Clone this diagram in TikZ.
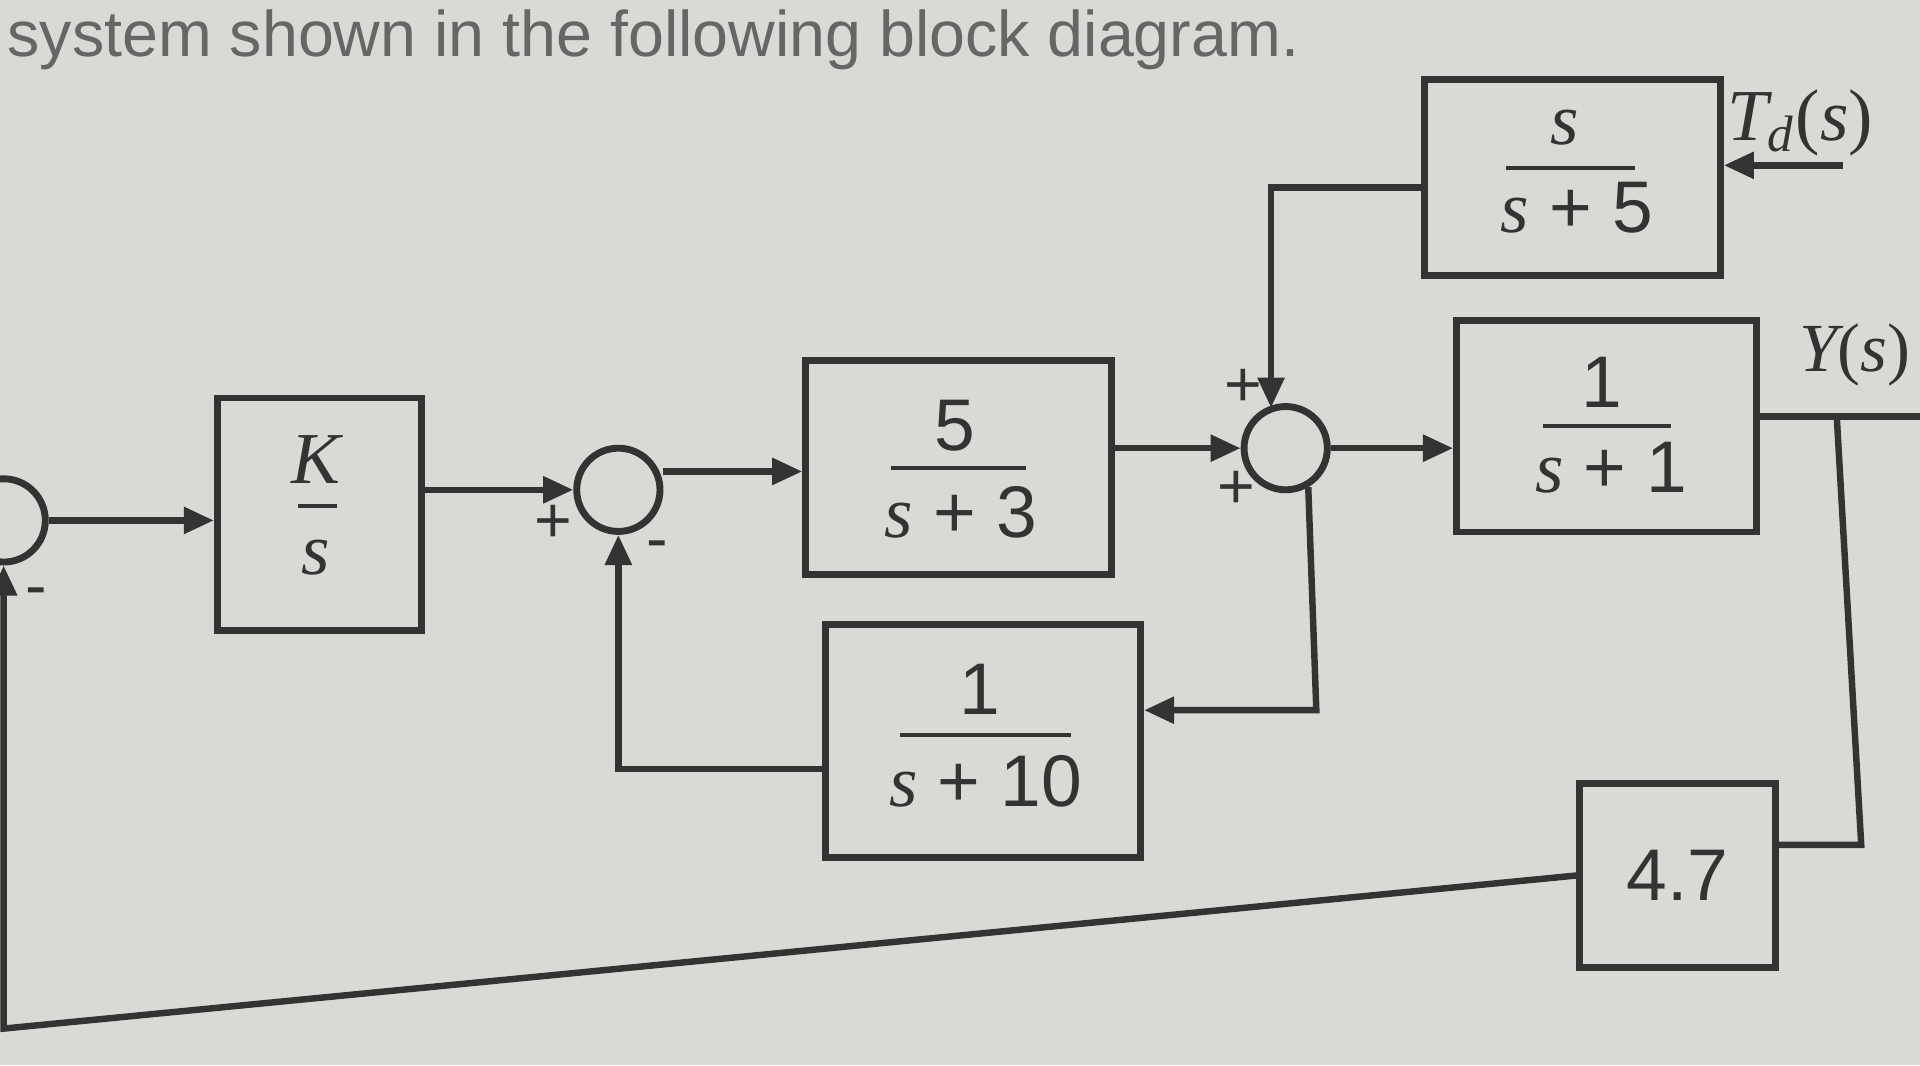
\documentclass[tikz,border=0pt]{standalone}
\usepackage{fontspec}
\setmainfont{Liberation Sans}
\newfontfamily\serifit{Liberation Serif}
\usetikzlibrary{arrows.meta}
\definecolor{bg}{HTML}{D9D9D6}
\definecolor{ink}{HTML}{333333}
\begin{document}
\begin{tikzpicture}[x=0.1mm,y=-0.1mm,
  ln/.style={ink,line width=1.5pt},
  ar/.style={ln,-{Triangle[length=7pt,width=6pt]}},
  blk/.style={draw=ink,line width=1.6pt,fill=bg,inner sep=0},
  sm/.style={draw=ink,line width=1.6pt,circle,minimum size=6.8mm,inner sep=0},
  tx/.style={font=\fontsize{17}{19}\selectfont,text=ink},
  sg/.style={font=\fontsize{15}{15}\selectfont,text=ink}]
\fill[bg] (0,0) rectangle (1568,870);
\useasboundingbox (0,0) rectangle (1568,870);
\node[anchor=north west,inner sep=1pt,text=gray!80!black,font=\fontsize{15}{17}\selectfont] (title) at (2,4) {system shown in the following block diagram.};
% blocks
\node[blk,minimum width=16.7mm,minimum height=19mm] (ks) at (261,420) {};
\node[tx] (ksn) at (258,375) {\serifit\itshape K};
\draw[ink,line width=1pt] (243,413) -- (275,413);
\node[tx] (ksd) at (258,455) {\serifit\itshape s};
\node[blk,minimum width=25mm,minimum height=17.5mm] (g1) at (783,382) {};
\node[tx] (g1n) at (780,348) {5};
\draw[ink,line width=1pt] (728,382) -- (838,382);
\node[tx] (g1d) at (785,418) {\serifit\itshape s\normalfont\ + 3};
\node[blk,minimum width=25.7mm,minimum height=19mm] (h1) at (803,605) {};
\node[tx] (h1n) at (800,563) {1};
\draw[ink,line width=1pt] (735,600) -- (875,600);
\node[tx] (h1d) at (805,638) {\serifit\itshape s\normalfont\ + 10};
\node[blk,minimum width=24.2mm,minimum height=16mm] (gd) at (1284,145) {};
\node[tx] (gdn) at (1278,104) {\serifit\itshape s};
\draw[ink,line width=1pt] (1230,137) -- (1335,137);
\node[tx] (gdd) at (1288,170) {\serifit\itshape s\normalfont\ + 5};
\node[blk,minimum width=24.5mm,minimum height=17.3mm] (g2) at (1312,348) {};
\node[tx] (g2n) at (1308,312) {1};
\draw[ink,line width=1pt] (1260,348) -- (1365,348);
\node[tx] (g2d) at (1316,382) {\serifit\itshape s\normalfont\ + 1};
\node[blk,minimum width=16mm,minimum height=15mm] (k47) at (1370,715) {};
\node[tx] at (1370,715) {4.7};
% sums
\node[sm] (s1) at (3,425) {};
\node[sm] (s2) at (505,400) {};
\node[sm] (s3) at (1050,366) {};
\node[sg] at (30,488) {-};
\node[sg] at (452,428) {+};
\node[sg] at (537,450) {-};
\node[sg] at (1015,317) {+};
\node[sg] at (1010,400) {+};
% labels
\node[tx] (td) at (1470,100) {\serifit\itshape T\textsubscript{d}\normalfont\serifit(\itshape s\normalfont\serifit)};
\node[tx,font=\fontsize{16}{18}\selectfont] (ys) at (1515,290) {\serifit\itshape Y\normalfont\serifit(\itshape s\normalfont\serifit)};
% connectors
\coordinate (tdin) at (1505,135);
\coordinate (yout) at (1568,340);
\coordinate (br) at (1500,340);
\draw[ar] (s1.east) -- (ks.west |- s1.east);
\draw[ar] (ks.east |- s2.west) -- (s2.west);
\draw[ar] (s2.east) ++(0,-15) coordinate (s2o) -- (g1.west |- s2o);
\draw[ar] (g1.east |- s3.west) -- (s3.west);
\draw[ar] (s3.east) -- (g2.west |- s3.east);
\draw[ar] (tdin) -- (gd.east |- tdin);
\draw[ar] (gd.west |- 0,153) -- (1038,153) -- (1038,333);
\draw[ln] (g2.east |- yout) -- (yout);
\draw[ln] (br) -- (1520,690) -- (k47.east |- 0,690);
\draw[ar] (k47.west) -- (3,840) -- (s1.south);
\draw[ar] (s3.-60) -- (1075,580) -- (h1.east |- 0,580);
\draw[ar] (h1.west |- 0,628) -- (505,628) -- (s2.south);
\end{tikzpicture}
\end{document}
